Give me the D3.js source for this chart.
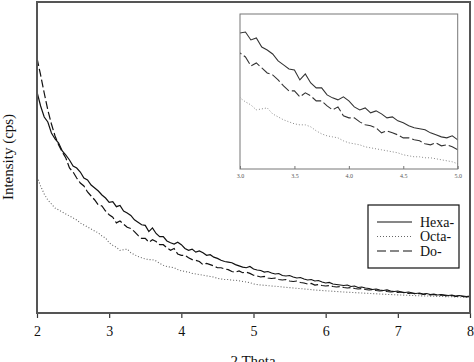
<!DOCTYPE html>
<html>
<head>
<meta charset="utf-8">
<script src="https://cdn.jsdelivr.net/npm/d3@7"></script>
<style>
  body { margin: 0; background: #fff; }
  text { font-family: "Liberation Serif", "Times New Roman", serif; }
</style>
</head>
<body>
<div id="chart"></div>
<script>
// 2 Theta sampling positions
var theta = [
  2.00, 2.05, 2.10, 2.15, 2.20, 2.25, 2.30, 2.35, 2.40, 2.45,
  2.50, 2.55, 2.60, 2.65, 2.70, 2.75, 2.80, 2.85, 2.90, 2.95,
  3.00, 3.05, 3.10, 3.15, 3.20, 3.25, 3.30, 3.35, 3.40, 3.45,
  3.50, 3.55, 3.60, 3.65, 3.70, 3.75, 3.80, 3.85, 3.90, 3.95,
  4.00, 4.05, 4.10, 4.15, 4.20, 4.25, 4.30, 4.35, 4.40, 4.45,
  4.50, 4.55, 4.60, 4.65, 4.70, 4.75, 4.80, 4.85, 4.90, 4.95,
  5.00, 5.05, 5.10, 5.15, 5.20, 5.25, 5.30, 5.35, 5.40, 5.45,
  5.50, 5.55, 5.60, 5.65, 5.70, 5.75, 5.80, 5.85, 5.90, 5.95,
  6.00, 6.05, 6.10, 6.15, 6.20, 6.25, 6.30, 6.35, 6.40, 6.45,
  6.50, 6.55, 6.60, 6.65, 6.70, 6.75, 6.80, 6.85, 6.90, 6.95,
  7.00, 7.05, 7.10, 7.15, 7.20, 7.25, 7.30, 7.35, 7.40, 7.45,
  7.50, 7.55, 7.60, 7.65, 7.70, 7.75, 7.80, 7.85, 7.90, 7.95,
  8.00
];

// intensity (arbitrary cps scale)
var hexa = [
  710.6, 665.6, 630.2, 614.1, 578.8, 559.5, 546.6, 520.9, 508.0, 491.9,
  472.7, 466.2, 453.4, 434.1, 427.6, 411.6, 401.9, 392.3, 379.4, 369.8,
  355.9, 357.9, 341.9, 345.9, 327.8, 321.8, 313.8, 299.8, 291.8, 283.8,
  281.8, 261.7, 273.7, 255.7, 245.7, 245.7, 231.7, 225.7, 221.7, 227.7,
  219.7, 207.6, 201.6, 205.6, 195.6, 199.6, 193.6, 185.6, 187.6, 179.6,
  175.6, 169.6, 165.6, 163.6, 161.6, 155.5, 151.5, 147.5, 145.5, 149.5,
  141.5, 138.3, 136.7, 131.8, 133.4, 128.6, 125.4, 127.0, 120.6, 119.0,
  120.6, 115.8, 112.5, 114.1, 109.3, 106.1, 107.7, 102.9, 104.5, 99.7,
  96.5, 98.1, 93.2, 91.6, 90.0, 88.4, 90.0, 85.2, 86.8, 82.0,
  83.6, 80.4, 78.8, 75.6, 77.2, 74.0, 72.3, 74.0, 70.7, 69.1,
  70.7, 67.5, 65.9, 67.5, 64.3, 62.7, 64.3, 61.1, 62.7, 59.5,
  61.1, 57.9, 59.5, 57.9, 56.3, 57.9, 54.7, 56.3, 54.7, 53.1,
  54.7
];

var octa = [
  437.3, 408.4, 382.6, 363.4, 350.5, 337.6, 331.2, 324.8, 318.4, 311.9,
  305.5, 299.1, 289.4, 283.0, 276.6, 270.1, 263.7, 257.3, 247.6, 241.2,
  225.7, 217.7, 211.6, 201.6, 203.6, 205.6, 193.6, 187.6, 181.6, 177.6,
  173.6, 171.6, 171.6, 167.6, 159.6, 153.5, 149.5, 147.5, 145.5, 139.5,
  135.5, 133.5, 131.5, 127.5, 125.5, 123.5, 121.5, 119.5, 117.5, 115.5,
  111.5, 109.5, 107.5, 107.5, 105.5, 105.5, 103.5, 101.5, 99.5, 97.5,
  93.4, 91.6, 90.0, 89.1, 88.1, 86.8, 85.9, 84.9, 83.6, 82.6,
  81.7, 80.4, 79.4, 78.5, 77.2, 76.2, 75.2, 74.0, 73.0, 72.3,
  71.4, 70.7, 69.8, 69.1, 68.2, 67.5, 66.9, 66.2, 65.6, 65.0,
  64.3, 63.7, 63.0, 62.4, 61.7, 61.1, 60.4, 59.8, 59.5, 58.8,
  58.2, 57.9, 57.2, 56.9, 56.3, 55.9, 55.3, 55.0, 54.7, 54.3,
  53.7, 53.4, 53.1, 52.7, 52.4, 52.1, 51.8, 51.4, 51.1, 50.8,
  50.5
];

var dodeca = [
  819.9, 765.3, 707.4, 652.7, 607.7, 569.1, 540.2, 517.7, 498.4, 466.2,
  453.4, 434.1, 418.0, 408.4, 389.1, 376.2, 363.4, 347.3, 344.0, 328.0,
  315.8, 307.8, 289.8, 295.8, 285.8, 275.8, 271.7, 261.7, 249.7, 239.7,
  239.7, 227.7, 235.7, 229.7, 219.7, 219.7, 209.6, 201.6, 207.6, 189.6,
  185.6, 185.6, 177.6, 171.6, 169.6, 165.6, 155.5, 159.6, 155.5, 151.5,
  145.5, 145.5, 141.5, 139.5, 133.5, 131.5, 135.5, 129.5, 131.5, 127.5,
  121.5, 119.0, 115.8, 117.4, 112.5, 110.9, 112.5, 107.7, 106.1, 107.7,
  102.9, 101.3, 102.9, 98.1, 96.5, 93.2, 94.9, 90.0, 91.6, 88.4,
  86.8, 88.4, 85.2, 83.6, 85.2, 82.0, 80.4, 82.0, 78.8, 77.2,
  78.8, 75.6, 74.0, 75.6, 72.3, 70.7, 72.3, 69.1, 67.5, 69.1,
  65.9, 67.5, 64.3, 62.7, 64.3, 61.1, 62.7, 59.5, 61.1, 57.9,
  59.5, 56.3, 57.9, 56.3, 54.7, 56.3, 53.1, 54.7, 53.1, 51.4,
  53.1
];

var seriesNames = ["Hexa-", "Octa-", "Do-"];
var xTicks = [2, 3, 4, 5, 6, 7, 8];
var insetTicks = [3.0, 3.5, 4.0, 4.5, 5.0];

var width = 474, height = 362;
var svg = d3.select("#chart").append("svg").attr("width", width).attr("height", height);

// main plot area
var plot = { left: 37, top: 2, right: 470, bottom: 313 };
var x = d3.scaleLinear().domain([2, 8]).range([plot.left, plot.right]);
var y = d3.scaleLinear().domain([0, 1000]).range([plot.bottom, plot.top]);

// inset area
var box = { left: 240, top: 14, right: 457.7, bottom: 169 };
var ix = d3.scaleLinear().domain([3, 5]).range([box.left, box.right]);
var iy = d3.scaleLinear().domain([83, 394]).range([box.bottom, box.top]);

var styles = [
  { name: seriesNames[0], values: hexa, color: "#111", dash: null, w: 1.2 },
  { name: seriesNames[1], values: octa, color: "#666", dash: "1,2", w: 1.1 },
  { name: seriesNames[2], values: dodeca, color: "#111", dash: "8,3", w: 1.2 }
];

var defs = svg.append("defs");
defs.append("clipPath").attr("id", "clipMain").append("rect")
  .attr("x", plot.left).attr("y", plot.top)
  .attr("width", plot.right - plot.left).attr("height", plot.bottom - plot.top);
defs.append("clipPath").attr("id", "clipInset").append("rect")
  .attr("x", box.left).attr("y", box.top)
  .attr("width", box.right - box.left).attr("height", box.bottom - box.top);

var lineMain = function (vals) {
  return d3.line().x(function (d, i) { return x(theta[i]); })
    .y(function (d) { return y(d); })(vals);
};
var lineInset = function (vals) {
  return d3.line().x(function (d, i) { return ix(theta[i]); })
    .y(function (d) { return iy(d); })(vals);
};

var gMain = svg.append("g").attr("clip-path", "url(#clipMain)");
styles.forEach(function (s) {
  gMain.append("path").attr("d", lineMain(s.values))
    .attr("fill", "none").attr("stroke", s.color)
    .attr("stroke-width", s.w).attr("stroke-dasharray", s.dash);
});

// x axis
var xAxisG = svg.append("g").attr("transform", "translate(0," + plot.bottom + ")")
  .call(d3.axisBottom(x).tickValues(xTicks).tickSize(5).tickPadding(8).tickFormat(d3.format("d")));
xAxisG.select(".domain").remove();
xAxisG.selectAll("line").attr("stroke", "#333").attr("stroke-width", 1.2);
xAxisG.selectAll("text").attr("font-size", 14).attr("fill", "#111")
  .style("font-family", "'Liberation Serif', 'Times New Roman', serif");

// frame
svg.append("rect").attr("x", plot.left).attr("y", plot.top)
  .attr("width", plot.right - plot.left).attr("height", plot.bottom - plot.top)
  .attr("fill", "none").attr("stroke", "#555").attr("stroke-width", 2);

// axis titles
svg.append("text").attr("x", 253).attr("y", 366).attr("text-anchor", "middle")
  .attr("font-size", 15).attr("fill", "#111").text("2 Theta");
svg.append("text").attr("transform", "translate(13,157) rotate(-90)")
  .attr("text-anchor", "middle").attr("font-size", 15).attr("fill", "#111")
  .text("Intensity (cps)");

// inset
var gInset = svg.append("g").attr("clip-path", "url(#clipInset)");
gInset.append("rect").attr("x", box.left).attr("y", box.top)
  .attr("width", box.right - box.left).attr("height", box.bottom - box.top).attr("fill", "#fff");
styles.forEach(function (s) {
  gInset.append("path").attr("d", lineInset(s.values))
    .attr("fill", "none").attr("stroke", s.color === "#111" ? "#333" : "#888")
    .attr("stroke-width", s.w * 0.9).attr("stroke-dasharray", s.dash === "8,3" ? "10,3" : s.dash);
});
var insetAxis = svg.append("g").attr("transform", "translate(0," + box.bottom + ")")
  .call(d3.axisBottom(ix).tickValues(insetTicks).tickSize(-3).tickPadding(5).tickFormat(d3.format(".1f")));
insetAxis.select(".domain").remove();
insetAxis.selectAll("line").attr("stroke", "#777");
insetAxis.selectAll("text").attr("font-size", 6).attr("fill", "#555")
  .style("font-family", "'Liberation Serif', 'Times New Roman', serif");
svg.append("rect").attr("x", box.left).attr("y", box.top)
  .attr("width", box.right - box.left).attr("height", box.bottom - box.top)
  .attr("fill", "none").attr("stroke", "#777").attr("stroke-width", 1);

// legend
var legend = svg.append("g");
legend.append("rect").attr("x", 368).attr("y", 205).attr("width", 91).attr("height", 63)
  .attr("fill", "#fff").attr("stroke", "#111").attr("stroke-width", 1.2);
var legendY = d3.scalePoint().domain(seriesNames).range([222, 251]);
styles.forEach(function (s) {
  var ly = legendY(s.name);
  legend.append("line").attr("x1", 377).attr("x2", 412).attr("y1", ly).attr("y2", ly)
    .attr("stroke", s.color).attr("stroke-width", s.w)
    .attr("stroke-dasharray", s.dash === "8,3" ? "9,4" : s.dash);
  legend.append("text").attr("x", 420).attr("y", ly + 4.5)
    .attr("font-size", 14).attr("fill", "#111").text(s.name);
});
</script>
</body>
</html>
